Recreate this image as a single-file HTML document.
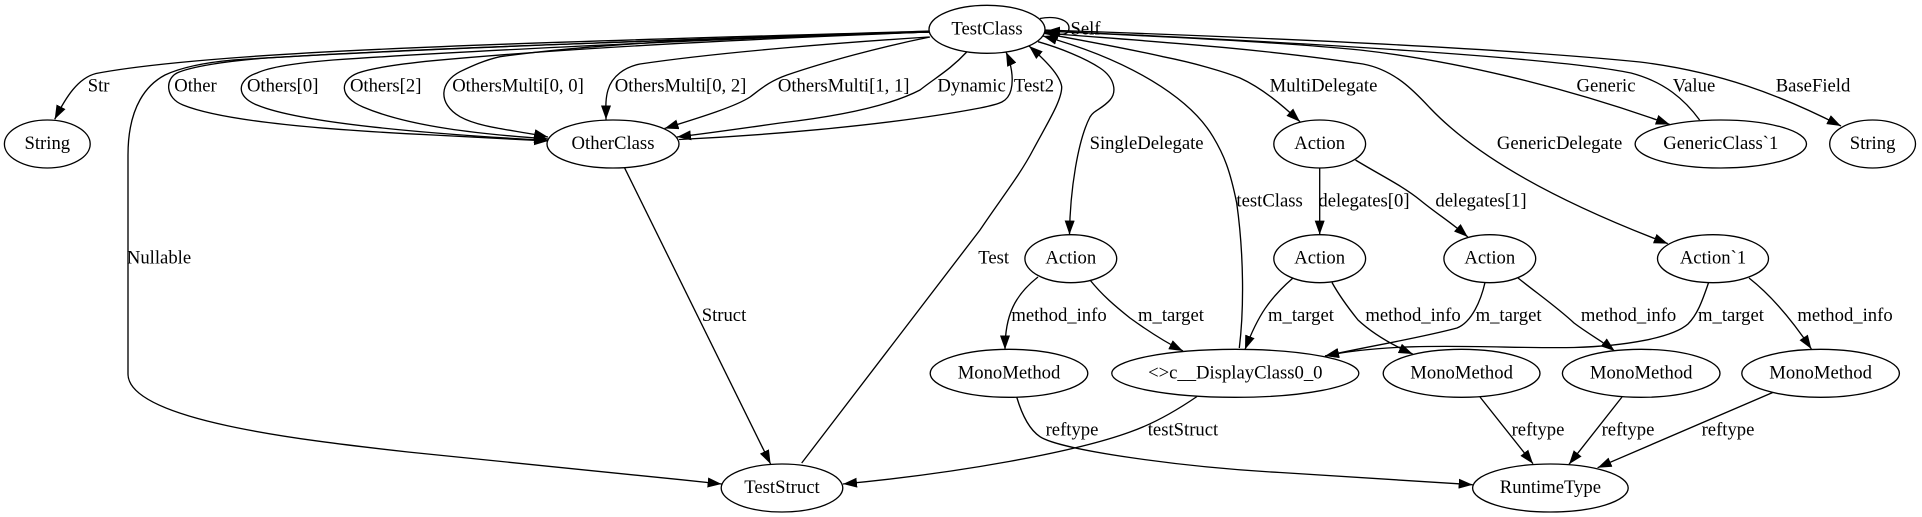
<!DOCTYPE html>
<html lang="en">
<head>
<meta charset="utf-8">
<title>TestClass graph</title>
<style>
html,body{margin:0;padding:0;background:#fff;width:1922px;height:517px;overflow:hidden}
svg{display:block}
text{font-family:"Liberation Serif","Times New Roman",serif;font-size:18.67px;text-anchor:middle;fill:#000}
ellipse{fill:#fff;stroke:#000;stroke-width:1.33}
path{fill:none;stroke:#000;stroke-width:1.33;marker-end:url(#a)}
</style>
</head>
<body>
<svg xmlns="http://www.w3.org/2000/svg" width="1922" height="517" viewBox="0 0 1922 517">
<defs>
<marker id="a" markerUnits="userSpaceOnUse" markerWidth="14" markerHeight="10" refX="14" refY="5" orient="auto" viewBox="0 0 14 10">
<polygon points="0,0 14,5 0,10" fill="#000"/>
</marker>
</defs>

<!-- bundle going left from TestClass -->
<path d="M930 31 C780 36 420 44 245 57 C190 61 130 67 96 73.5 C78 78 66 97 54.7 119.3"/>
<path d="M930 32 C760 37 420 48 233 60 C200 63 180 68 165 75 C148 84 128 105 128 155 L128 374 C128 420 300 440 408 452 C520 464.4 620 473 721.6 484"/>
<path d="M930 32 C760 37 420 48 267 58 C225 61 190 67 177 73 C165 79 165 98 183 105 C225 122 330 130 433 135 C470 137 510 139 548 141"/>
<path d="M930 32 C760 37 480 50 333 60 C295 63 270 67 257 73 C236 80 236 97 257 105 C300 123 430 134 548 140.5"/>
<path d="M930 32 C800 37 590 46 433 60.7 C400 64 372 68 358 73 C340 80 338 96 363 107 C410 127 480 134 548 139"/>
<path d="M930 32 C810 35 620 40 500 56.7 C485 60 472 66 460 71.7 C440 82 437 103 460 116.7 C480 128 515 130 548 137"/>
<path d="M929 37 C850 42 720 52 640 64 C625 67 612 76 608 90 C605 100 606 110 606 119.5"/>
<path d="M930 37 C880 47 825 62 787 75 C770 81 762 88 750 97 C735 107 695 119 664.5 128.5"/>
<path d="M966.7 52 C950 70 935 78 920 90 C895 103 850 115 780 123 C745 128 710 133 677 137"/>
<path d="M679 139.5 C750 136 880 127 980 108 C1000 104 1008 102 1011 90 C1014 78 1011 63 1006 52"/>
<path d="M801.7 463 C830 425 900 335 980 230 C1000 200 1020 175 1033 150 C1048 122 1062 100 1061.7 86.7 C1060 75 1045 60 1029 46"/>
<path d="M624.5 167.7 L770.6 464"/>

<!-- right of TestClass -->
<path d="M1038 41.7 C1060 48 1085 58 1100 68 C1115 78 1117 92 1110 100 C1102 109 1094 110 1090 117 C1078 140 1070 190 1069.5 234.6"/>
<path d="M1239.3 348 C1244 310 1244 255 1236.7 203 C1230 170 1224 155 1213 136.7 C1190 98 1130 60 1043 36"/>
<path d="M1042 33 C1080 40 1130 49 1163 56.7 C1195 63 1225 72 1240 78 C1262 88 1282 105 1300 121.7"/>
<path d="M1044 33 C1130 40 1250 47 1363 64 C1395 70 1415 92 1430 108 C1470 150 1540 195 1667.8 243.6"/>
<path d="M1045 31 C1150 36 1280 42 1360 50 C1450 60 1560 85 1669.8 124.5"/>
<path d="M1699.6 120 C1685 100 1665 82 1631 73 C1560 58 1300 42 1046 31"/>
<path d="M1045 30 C1250 37 1500 48 1640 62 C1720 72 1780 95 1841 126"/>
<path d="M1040 18.5 C1056 15.5 1069 20 1069 28 C1069 35 1062 36 1045 32"/>

<!-- delegates -->
<path d="M1319.7 168 L1319.7 234.6"/>
<path d="M1355.5 160 C1380 175 1403 186 1420 200 C1437 214 1452 223 1467.8 237"/>
<path d="M1038 277 C1015 295 1005 315 1005 349.5"/>
<path d="M1090 280 C1102 295 1115 306 1130 318 C1148 331 1165 342 1183 351"/>
<path d="M1293 278 C1270 298 1258 315 1245 349.5"/>
<path d="M1332 282.5 C1340 297 1350 310 1358 320 C1372 333 1390 344 1412.7 354"/>
<path d="M1485 282.5 C1481 300 1472 322 1457 328 C1420 338 1370 346 1325 356"/>
<path d="M1518 278 C1538 294 1558 308 1574 323 C1590 335 1602 341 1614.7 351"/>
<path d="M1708.6 282.5 C1702 302 1697 315 1688 324 C1672 338 1625 346 1574 347.5 C1500 349 1400 340 1325 356"/>
<path d="M1749 278 C1772 296 1792 320 1811.4 349"/>

<!-- bottom row -->
<path d="M1016.7 397 C1022 415 1030 430 1040 436.7 C1060 450 1180 467 1280 472.5 C1350 476.5 1420 481 1472.7 484.7"/>
<path d="M1197 396.5 C1170 415 1150 425 1130 432 C1075 452 960 473 843 484"/>
<path d="M1480 397 L1533 463.7"/>
<path d="M1622 397 L1569 464.3"/>
<path d="M1773.9 392 L1597.6 467.7"/>

<!-- nodes -->
<ellipse cx="987" cy="29.33" rx="58" ry="24"/><text x="987" y="34.5">TestClass</text>
<ellipse cx="47.3" cy="144" rx="42.9" ry="24"/><text x="47.3" y="149">String</text>
<ellipse cx="613" cy="144" rx="66" ry="24"/><text x="613" y="149">OtherClass</text>
<ellipse cx="1319.7" cy="144" rx="45.9" ry="24"/><text x="1319.7" y="149">Action</text>
<ellipse cx="1720.8" cy="144" rx="85.7" ry="24"/><text x="1720.8" y="149">GenericClass`1</text>
<ellipse cx="1872.6" cy="144" rx="42.9" ry="24"/><text x="1872.6" y="149">String</text>
<ellipse cx="1070.8" cy="258.67" rx="45.9" ry="24"/><text x="1070.8" y="263.7">Action</text>
<ellipse cx="1319.7" cy="258.67" rx="45.9" ry="24"/><text x="1319.7" y="263.7">Action</text>
<ellipse cx="1489.8" cy="258.67" rx="45.9" ry="24"/><text x="1489.8" y="263.7">Action</text>
<ellipse cx="1713" cy="258.67" rx="55.5" ry="24"/><text x="1713" y="263.7">Action`1</text>
<ellipse cx="1009" cy="373.33" rx="78.8" ry="24"/><text x="1009" y="378.3">MonoMethod</text>
<ellipse cx="1235.3" cy="373.33" rx="123.5" ry="24"/><text x="1235.3" y="378.3">&lt;&gt;c__DisplayClass0_0</text>
<ellipse cx="1461.6" cy="373.33" rx="78.4" ry="24"/><text x="1461.6" y="378.3">MonoMethod</text>
<ellipse cx="1641.2" cy="373.33" rx="78.8" ry="24"/><text x="1641.2" y="378.3">MonoMethod</text>
<ellipse cx="1820.6" cy="373.33" rx="78.8" ry="24"/><text x="1820.6" y="378.3">MonoMethod</text>
<ellipse cx="782" cy="488" rx="60.8" ry="24"/><text x="782" y="493">TestStruct</text>
<ellipse cx="1550.4" cy="488" rx="77.8" ry="24"/><text x="1550.4" y="493">RuntimeType</text>

<!-- labels -->
<text x="1085.5" y="34.3">Self</text>
<text x="98.6" y="91.7">Str</text>
<text x="195.5" y="91.7">Other</text>
<text x="282.7" y="91.7">Others[0]</text>
<text x="385.7" y="91.7">Others[2]</text>
<text x="518" y="91.7">OthersMulti[0, 0]</text>
<text x="680.6" y="91.7">OthersMulti[0, 2]</text>
<text x="843.7" y="91.7">OthersMulti[1, 1]</text>
<text x="971.6" y="91.7">Dynamic</text>
<text x="1034" y="91.7">Test2</text>
<text x="1323.5" y="91.7">MultiDelegate</text>
<text x="1606" y="91.7">Generic</text>
<text x="1694" y="91.7">Value</text>
<text x="1813" y="91.7">BaseField</text>
<text x="1146.6" y="149">SingleDelegate</text>
<text x="1559.6" y="149">GenericDelegate</text>
<text x="1269.6" y="206.3">testClass</text>
<text x="1364" y="206.3">delegates[0]</text>
<text x="1481" y="206.3">delegates[1]</text>
<text x="159" y="263.7">Nullable</text>
<text x="993.7" y="263.7">Test</text>
<text x="724" y="321">Struct</text>
<text x="1059" y="321">method_info</text>
<text x="1171" y="321">m_target</text>
<text x="1301" y="321">m_target</text>
<text x="1413" y="321">method_info</text>
<text x="1508.6" y="321">m_target</text>
<text x="1628.6" y="321">method_info</text>
<text x="1731" y="321">m_target</text>
<text x="1845" y="321">method_info</text>
<text x="1072" y="435.7">reftype</text>
<text x="1183" y="435.7">testStruct</text>
<text x="1538" y="435.7">reftype</text>
<text x="1628" y="435.7">reftype</text>
<text x="1728" y="435.7">reftype</text>
</svg>
</body>
</html>
